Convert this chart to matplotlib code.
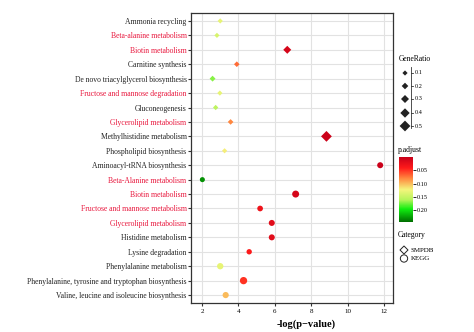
import numpy as np
import matplotlib
matplotlib.use("Agg")
import matplotlib.pyplot as plt
from matplotlib.colors import LinearSegmentedColormap, Normalize

plt.rcParams['font.family'] = ['Liberation Serif', 'DejaVu Serif']

# pathways, top to bottom
pathways = [
    "Ammonia recycling", "Beta-alanine metabolism", "Biotin metabolism",
    "Carnitine synthesis", "De novo triacylglycerol biosynthesis",
    "Fructose and mannose degradation", "Gluconeogenesis",
    "Glycerolipid metabolism", "Methylhistidine metabolism",
    "Phospholipid biosynthesis", "Aminoacyl-tRNA biosynthesis",
    "Beta-Alanine metabolism", "Biotin metabolism",
    "Fructose and mannose metabolism", "Glycerolipid metabolism",
    "Histidine metabolism", "Lysine degradation",
    "Phenylalanine metabolism",
    "Phenylalanine, tyrosine and tryptophan biosynthesis",
    "Valine, leucine and isoleucine biosynthesis",
]
category = ["SMPDB"] * 10 + ["KEGG"] * 10
highlight = [False, True, True, False, False, True, False, True, False, False,
             False, True, True, True, True, False, False, False, False, False]
neg_log_p = [3.0, 2.82, 6.68, 3.91, 2.58, 2.98, 2.75, 3.57, 8.83, 3.24,
             11.78, 2.02, 7.14, 5.19, 5.83, 5.83, 4.59, 3.0, 4.28, 3.3]
p_adjust = [0.13, 0.14, 0.01, 0.07, 0.17, 0.13, 0.155, 0.08, 0.003, 0.12,
            0.002, 0.23, 0.01, 0.03, 0.02, 0.02, 0.04, 0.13, 0.05, 0.10]
gene_ratio = [0.1, 0.1, 0.3, 0.13, 0.15, 0.1, 0.11, 0.13, 0.5, 0.1,
              0.22, 0.16, 0.28, 0.2, 0.22, 0.22, 0.18, 0.24, 0.3, 0.23]

legend_ratios = [0.1, 0.2, 0.3, 0.4, 0.5]
padj_ticks = [0.05, 0.10, 0.15, 0.20]

red_txt = '#e8163c'

cmap = LinearSegmentedColormap.from_list("padj", [
    (0.0, '#c8001a'), (0.17, '#ff1a1a'), (0.33, '#ff8a40'),
    (0.5, '#f4f47c'), (0.66, '#b4f45a'), (0.8, '#10ee10'), (1.0, '#006e00')])
norm = Normalize(vmin=0.0, vmax=0.244)


def size_of(r, marker):
    if marker == 'D':
        w_pt = (3.8 + 14 * r) * 0.72 / np.sqrt(2)
    else:
        w_pt = (2.5 + 16 * r) * 0.72
    return w_pt ** 2


fig = plt.figure(figsize=(4.74, 3.32), dpi=100)
ax = fig.add_axes([190.7 / 474, 1 - 303 / 332, 202.6 / 474, 290 / 332])

y = np.arange(len(pathways))
for cat, mk in [("SMPDB", 'D'), ("KEGG", 'o')]:
    idx = [i for i, c in enumerate(category) if c == cat]
    ax.scatter([neg_log_p[i] for i in idx], [y[i] for i in idx],
               s=[size_of(gene_ratio[i], mk) for i in idx],
               c=[p_adjust[i] for i in idx], cmap=cmap, norm=norm,
               marker=mk, linewidths=0, zorder=3)

ax.set_xlim(1.38, 12.5)
ax.set_ylim(len(pathways) - 0.45, -0.55)
ax.set_xticks([2, 4, 6, 8, 10, 12])
ax.set_yticks(y)
ax.set_yticklabels(pathways)
for lbl, h in zip(ax.get_yticklabels(), highlight):
    lbl.set_color(red_txt if h else '#222222')
ax.tick_params(axis='y', labelsize=5.5, length=2, pad=1, width=0.8, color='#333333')
ax.tick_params(axis='x', labelsize=5, length=2.5, pad=1.5, width=0.8, color='#333333')
ax.grid(True, color='#e2e2e2', linewidth=0.8, zorder=0)
ax.set_axisbelow(True)
for sp in ax.spines.values():
    sp.set_color('#333333')
    sp.set_linewidth(0.9)
ax.set_xlabel('-log(p\u2212value)', fontsize=7.5, fontweight='bold')
ax.xaxis.set_label_coords(0.569, -0.055)

# legends in pixel coordinates
lax = fig.add_axes([0, 0, 1, 1])
lax.set_xlim(0, 474)
lax.set_ylim(332, 0)
lax.axis('off')

lax.text(399, 59, 'GeneRatio', fontsize=5.5, va='center', ha='left')
leg_y = [73, 86, 99, 113, 126]
lax.scatter([405] * len(legend_ratios), leg_y,
            s=[size_of(r, 'D') for r in legend_ratios],
            marker='D', color='#222222', linewidths=0)
lax.plot([411.5, 411.5], [67, 128], color='#333333', lw=0.6)
for r, yy in zip(legend_ratios, leg_y):
    lax.plot([411.5, 413.5], [yy, yy], color='#333333', lw=0.6)
    lax.text(415, yy, '%.1f' % r, fontsize=4.5, va='center', ha='left')

lax.text(398, 150, 'p.adjust', fontsize=5.5, va='center', ha='left')
cax = fig.add_axes([399 / 474, 1 - 222 / 332, 14 / 474, 65 / 332])
cb = fig.colorbar(plt.cm.ScalarMappable(norm=norm, cmap=cmap), cax=cax)
cax.invert_yaxis()
cb.outline.set_visible(False)
cb.set_ticks(padj_ticks)
cb.set_ticklabels(['%.2f' % t for t in padj_ticks])
cax.tick_params(labelsize=4.5, length=2, width=0.6, pad=1)

lax.text(398, 235, 'Category', fontsize=5.5, va='center', ha='left')
for yy, mk, name in [(250, 'D', 'SMPDB'), (258.5, 'o', 'KEGG')]:
    lax.scatter([404], [yy], s=size_of(0.3, mk), marker=mk,
                facecolors='none', edgecolors='#222222', linewidths=0.7)
    lax.text(411, yy, name, fontsize=5, va='center', ha='left')

fig.savefig('out.png', dpi=100)
